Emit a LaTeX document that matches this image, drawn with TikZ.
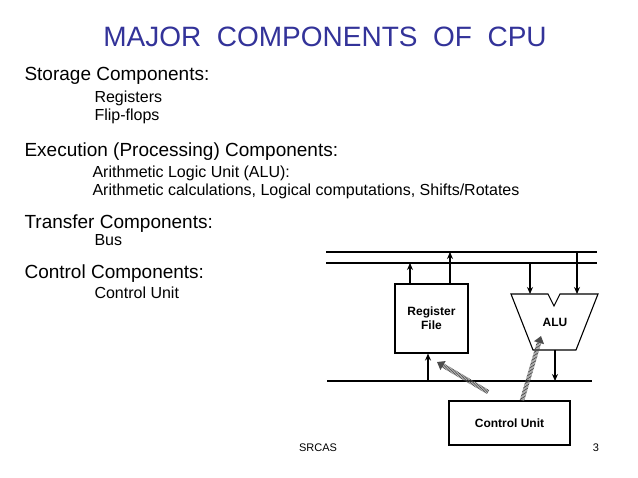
\documentclass[tikz,border=0pt]{standalone}
\usepackage{fontspec}
\setmainfont{Liberation Sans}
\usetikzlibrary{arrows.meta}
\definecolor{ttl}{HTML}{333399}
\begin{document}
\begin{tikzpicture}[x=1pt,y=-1pt,
  head/.style={anchor=base west,font=\fontsize{19}{19}\selectfont},
  sub/.style={anchor=base west,font=\fontsize{16}{16}\selectfont},
  wire/.style={line width=1.3pt},
  arr/.style={line width=1.1pt,-{Stealth[length=7pt,width=6pt]}},
  hatch/.style={line width=4.5pt,gray!60!black,dash pattern=on 0.7pt off 0.7pt,-{Triangle[width=10pt,length=7pt]}},
  box/.style={draw,line width=1.1pt,align=center,font=\bfseries\fontsize{12}{14}\selectfont}]
\useasboundingbox (0,0) rectangle (638,478);
\node[anchor=base,text=ttl,font=\fontsize{28}{28}\selectfont] (t) at (325,47) {MAJOR\ \ COMPONENTS\ \ OF\ \ CPU};
\node[head] (h1) at (21,81) {Storage Components:};
\node[sub] (s1) at (91,103) {Registers};
\node[sub] (s2) at (91,121) {Flip-flops};
\node[head] (h2) at (21,157) {Execution (Processing) Components:};
\node[sub] (s3) at (89,178) {Arithmetic Logic Unit (ALU):};
\node[sub] (s4) at (89,196) {Arithmetic calculations, Logical computations, Shifts/Rotates};
\node[head] (h3) at (21,229) {Transfer Components:};
\node[sub] (s5) at (91,246) {Bus};
\node[head] (h4) at (21,279) {Control Components:};
\node[sub] (s6) at (91,299) {Control Unit};
\node[anchor=base,font=\fontsize{11}{11}\selectfont] (f1) at (318,452) {SRCAS};
\node[anchor=base,font=\fontsize{11}{11}\selectfont] (f2) at (596,452) {3};
% buses
\coordinate (b1l) at (326,252); \coordinate (b1r) at (597,252);
\coordinate (b2l) at (326,263); \coordinate (b2r) at (597,263);
\coordinate (b3l) at (327,381); \coordinate (b3r) at (592,381);
\draw[wire] (b1l)--(b1r); \draw[wire] (b2l)--(b2r); \draw[wire] (b3l)--(b3r);
% register file
\node[box,minimum width=73pt,minimum height=69pt] (rf) at (431.5,318.5) {Register\\File};
\draw[arr] (rf.north -| 410,0) -- (410,263);
\draw[arr] (rf.north -| 450,0) -- (450,252);
\draw[arr] (428,381) -- (rf.south -| 428,0);
% ALU
\draw[line width=1.1pt] (511,294) -- (548,294) -- (554,306) -- (560,294) -- (598,294) -- (576,350) -- (533,350) -- cycle;
\node[font=\bfseries\fontsize{12}{14}\selectfont] (alu) at (555,322) {ALU};
\draw[arr] (530,263) -- (530,294);
\draw[arr] (577,252) -- (577,294);
\draw[arr] (555,350) -- (555,381);
% control unit
\node[box,minimum width=121pt,minimum height=44pt] (cu) at (509.5,423) {Control Unit};
\draw[hatch] (488,392) -- (437,362);
\draw[hatch] (cu.north -| 522,0) -- (541,336);
\end{tikzpicture}
\end{document}
